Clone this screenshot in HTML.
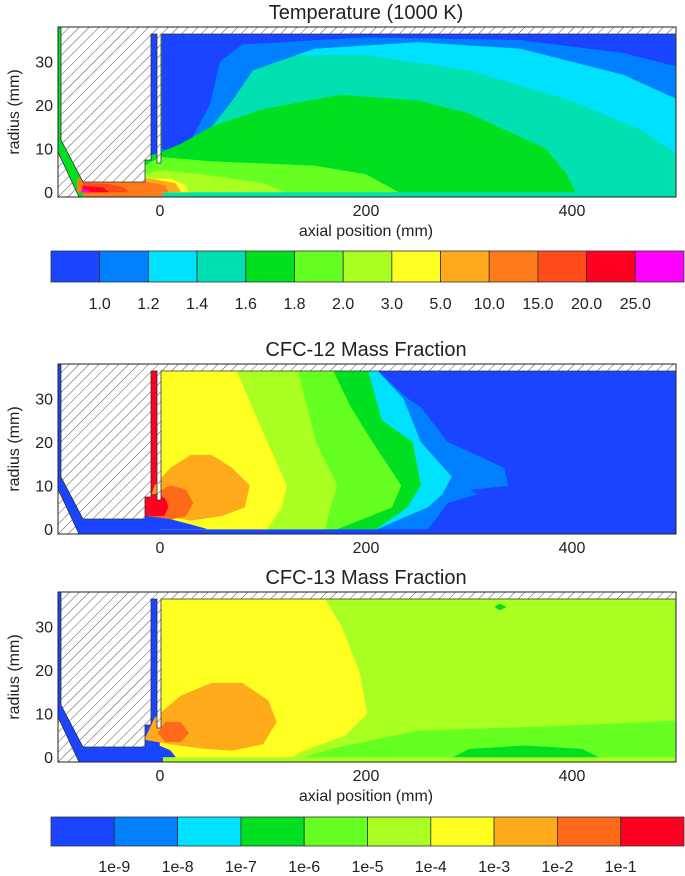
<!DOCTYPE html>
<html><head><meta charset="utf-8"><style>
html,body{margin:0;padding:0;background:#fff;}
svg{display:block;font-family:"Liberation Sans",Arial,sans-serif;}
</style></head><body>
<svg id="fig" width="685" height="876" viewBox="0 0 685 876" xmlns="http://www.w3.org/2000/svg">
<defs>
<pattern id="hatch" patternUnits="userSpaceOnUse" width="7" height="7" patternTransform="rotate(45)">
<rect width="7" height="7" fill="#fff"/><line x1="0" y1="0" x2="0" y2="7" stroke="#555" stroke-width="1"/>
</pattern>
</defs>
</svg>
<script>
// ---- data arrays ----
const tempLevels = ["1.0","1.2","1.4","1.6","1.8","2.0","3.0","5.0","10.0","15.0","20.0","25.0"];
const tempColors = ["#1a44ff","#0080ff","#00e0ff","#00e0b0","#00e020","#66ff22","#aaff22","#ffff22","#ffaa1a","#ff7a1a","#ff4a1a","#ff0022","#ff00ff"];
const massLevels = ["1e-9","1e-8","1e-7","1e-6","1e-5","1e-4","1e-3","1e-2","1e-1"];
const massColors = ["#1a44ff","#0080ff","#00e0ff","#00e020","#66ff22","#aaff22","#ffff22","#ffaa1a","#ff6a1a","#ff0022"];
const xTicks = [0,200,400];
const yTicks = [0,10,20,30];
// contour regions: [colorIndex, [[axial mm, radius mm],...]]
const tempRegions = [
 [2,[[2,36.4],[2,8.5],[20,9.5],[45,14],[65,22],[85,29],[120,31.5],[200,31.5],[300,28],[400,21],[470,14],[500,9],[500,36.4]]],
 [1,[[2,36.4],[2,9],[12,9],[40,12],[70,21],[90,28],[150,33],[250,34.5],[350,33],[450,27],[500,21.6],[500,36.4]]],
 [0,[[2,36.4],[2,10],[8,9.5],[30,12],[48,20],[58,30],[80,34],[200,35.6],[350,35],[450,32],[500,29],[500,36.4]]],
 [4,[[-15,0],[-15,8],[0,9],[20,11],[50,15],[100,19],[175,22.3],[250,21],[300,18],[374,10],[395,4],[403,0]]],
 [5,[[-15,0],[-15,6],[0,8],[50,7],[150,6],[200,4],[231,0]]],
 [6,[[-15,0],[-15,4],[0,5],[40,4],[100,2],[120,0]]],
 [7,[[-15,0],[-15,3],[10,3],[25,1.5],[28,0]]],
 [8,[[-80,0],[-80,3],[-10,3],[15,2],[20,0]]],
 [9,[[-80,0],[-80,3],[-30,3],[5,1.5],[8,0]]],
 [10,[[-75,0],[-75,2],[-50,1.8],[-35,1],[-30,0]]],
 [11,[[-75,0],[-75,1.3],[-55,1],[-50,0]]],
 [12,[[-76,0],[-76,0.6],[-70,0.4],[-68,0]]]
];
const cfc12Regions = [
 [1,[[211,36.4],[240,30],[253,28],[279,20],[334,14],[338,10],[300,9],[308,8],[279,6],[270,3],[260,0],[0,0],[0,36.4]]],
 [2,[[211,36.4],[236,30],[253,20],[283,12],[274,8],[260,5],[240,3],[211,0],[0,0],[0,36.4]]],
 [3,[[202,36.4],[215,25],[245,20],[253,10],[240,5],[210,0],[0,0],[0,36.4]]],
 [4,[[168,36.4],[185,28],[206,20],[234,10],[225,5],[172,0],[0,0],[0,36.4]]],
 [5,[[134,36.4],[151,20],[172,10],[165,5],[160,0],[0,0],[0,36.4]]],
 [6,[[74,36.4],[104,20],[123,10],[118,5],[104,0],[0,0],[0,36.4]]],
 [7,[[-5,10],[10,14],[30,17],[50,17],[70,14],[87,10],[82,5],[60,3],[30,2],[5,3],[-15,3]]],
 [8,[[-5,8],[10,10],[25,9],[32,6],[25,3],[10,2.2],[-15,3]]],
 [9,[[-15,3],[-15,8],[-3,8],[5,7],[8,5],[4,3]]],
 [0,[[-15,0],[-15,3],[10,2.2],[30,1],[45,0]]]
];
const cfc13Regions = [
 [6,[[0,36.4],[160,36.4],[176,30],[193,20],[201,10],[180,5],[134,1],[130,0],[0,0]]],
 [4,[[140,0],[170,2],[250,6],[400,7.2],[500,8.3],[500,0]]],
 [3,[[285,0],[300,1.8],[355,2.6],[410,1.8],[425,0]]],
 [3,[[325,34.5],[330,35.2],[336,34.5],[330,33.8]]],
 [7,[[-5,9],[20,14],[50,17],[80,17],[105,13],[113,8],[100,3],[70,1.5],[40,2],[10,3],[-15,4]]],
 [8,[[-2,5.5],[5,8],[20,8],[28,5.5],[20,3.5],[5,3.5]]],
 [0,[[-15,0],[-15,3.5],[0,2.5],[10,1.5],[15,0]]]
];

const NS="http://www.w3.org/2000/svg";
const svg=document.getElementById('fig');
function mk(tag,attrs,parent){const e=document.createElementNS(NS,tag);for(const k in attrs)e.setAttribute(k,attrs[k]);(parent||svg).appendChild(e);return e;}
function X(mm){return 160+1.03*mm;}
function R(r){return 165-4.35*r;}
const flowPath="M58,0 L61,0 L61,113 L83,155 L145,155 L145,133 L151,133 L151,7 L157,7 L157,136 L161,136 L161,7 L676,7 L676,170 L79,170 L58,125 Z";

function plot(idx,top,title,regions,colors,base,gapColor,inletColor,interiorColor,showXTitle){
  const g=mk('g',{transform:'translate(0,'+top+')'});
  
  
  const cp=mk('clipPath',{id:'clip'+idx},g);
  mk('path',{d:flowPath},cp);
  const bg=mk('rect',{x:58,y:0,width:618,height:170,fill:'url(#hatch)'},g);
  
  
  const fg=mk('g',{'clip-path':'url(#clip'+idx+')'},g);
  mk('rect',{x:58,y:0,width:618,height:170,fill:colors[base]},fg);
  mk('rect',{x:58,y:0,width:105,height:170,fill:inletColor},fg);
  mk('rect',{x:83,y:150,width:80,height:20,fill:interiorColor},fg);
  mk('rect',{x:150,y:0,width:8,height:136,fill:gapColor},fg);
  regions.forEach((reg,i)=>{
    const pts=reg[1].map(p=>X(p[0]).toFixed(1)+','+R(p[1]).toFixed(1)).join(' ');
    const p=mk('polygon',{points:pts,fill:colors[reg[0]],'stroke':colors[reg[0]],'stroke-width':0.5,'stroke-linejoin':'round'},fg);
    
    
  });
  mk('path',{d:flowPath,fill:'none',stroke:'#333','stroke-width':0.8},g);
  const box=mk('rect',{x:58,y:0,width:618,height:170,fill:'none',stroke:'#222','stroke-width':1},g);
  
  
  const t=mk('text',{x:366,y:-8,'text-anchor':'middle','font-size':20,fill:'#222'},g);
  t.textContent=title;
  
  
  yTicks.forEach(v=>{
    const l=mk('text',{x:53,y:R(v)+6,'text-anchor':'end','font-size':16,fill:'#222'},g);
    l.textContent=v;
    
    
  });
  xTicks.forEach(v=>{
    const l=mk('text',{x:X(v),y:189,'text-anchor':'middle','font-size':16,fill:'#222'},g);
    l.textContent=v;
    
    
  });
  const yl=mk('text',{x:0,y:0,transform:'translate(19,85) rotate(-90)','text-anchor':'middle','font-size':16,fill:'#222'},g);
  yl.textContent='radius (mm)';
  
  
  if(showXTitle){
    const xl=mk('text',{x:366,y:209,'text-anchor':'middle','font-size':16,fill:'#222'},g);
    xl.textContent='axial position (mm)';
    
    
  }
}
function colorbar(name,y,h,colors,labels,ly){
  const g=mk('g',{});
  
  
  const x0=51,x1=684,w=(x1-x0)/colors.length;
  colors.forEach((c,i)=>{
    const r=mk('rect',{x:x0+i*w,y:y,width:w,height:h,fill:c,stroke:'#333','stroke-width':0.8},g);
    
    
  });
  labels.forEach((s,i)=>{
    const t=mk('text',{x:x0+(i+1)*w,y:ly,'text-anchor':'middle','font-size':16,fill:'#222'},g);
    t.textContent=s;
    
    
  });
}
plot(1,27,'Temperature (1000 K)',tempRegions,tempColors,3,'#1a44ff','#00e020','#ff7a1a',true);
plot(2,364,'CFC-12 Mass Fraction',cfc12Regions,massColors,0,'#ff0022','#1a44ff','#1a44ff',false);
plot(3,592,'CFC-13 Mass Fraction',cfc13Regions,massColors,5,'#1a44ff','#1a44ff','#1a44ff',true);
colorbar('temperature-colorbar',251,31,tempColors,tempLevels,309);
colorbar('mass-fraction-colorbar',817,29,massColors,massLevels,872);
</script>
</body></html>
